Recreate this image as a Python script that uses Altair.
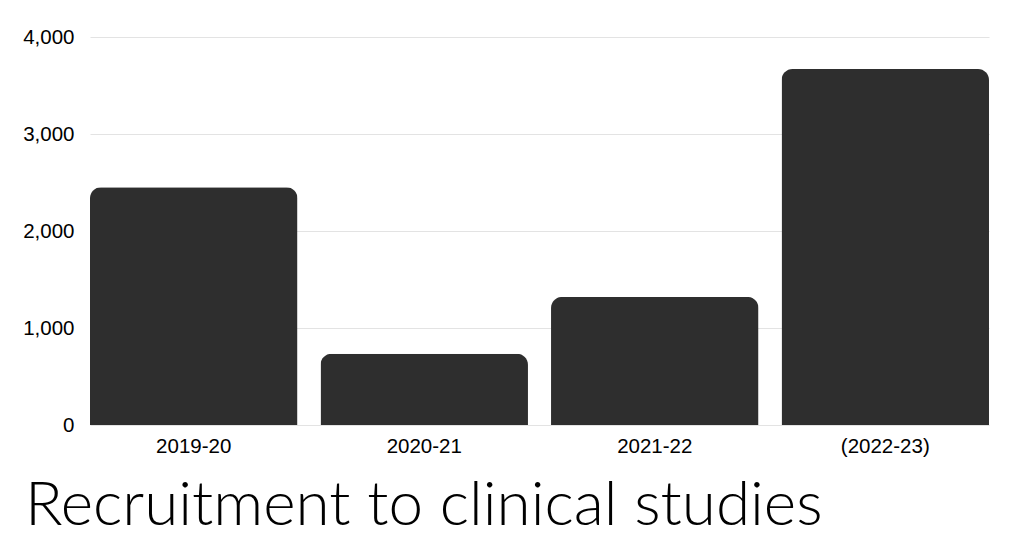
import altair as alt
import pandas as pd

years = ["2019-20", "2020-21", "2021-22", "(2022-23)"]
recruits = [2450, 735, 1320, 3670]

df = pd.DataFrame({"year": years, "recruits": recruits})

chart = alt.Chart(df).mark_bar(
    color="#2e2e2e", cornerRadiusTopLeft=11, cornerRadiusTopRight=11
).encode(
    x=alt.X("year:N", sort=years, title=None,
            scale=alt.Scale(paddingInner=0.1, paddingOuter=0),
            axis=alt.Axis(labelAngle=0, ticks=False, domain=False, labelPadding=11,
                          labelFontSize=20.5, labelColor="#000", labelFont="Liberation Sans")),
    y=alt.Y("recruits:Q", title=None,
            scale=alt.Scale(domain=[0, 4000]),
            axis=alt.Axis(values=[0, 1000, 2000, 3000, 4000], format=",.0f", ticks=False, domain=False,
                          labelPadding=16, labelFontSize=20.5, labelColor="#000",
                          labelFont="Liberation Sans", gridColor="#e3e3e3")),
).properties(
    width=899, height=388,
    title=alt.TitleParams("Recruitment to clinical studies", orient="bottom", anchor="start",
                          frame="group", fontSize=62, font="Lato", fontWeight=300, color="#000",
                          dx=-65, offset=19),
    padding={"left": 82, "top": 29, "right": 20, "bottom": 118},
    autosize=alt.AutoSizeParams(type="none"),
).configure_view(stroke=None)

chart.save("out.html", embed_options={"renderer": "svg", "actions": False})
